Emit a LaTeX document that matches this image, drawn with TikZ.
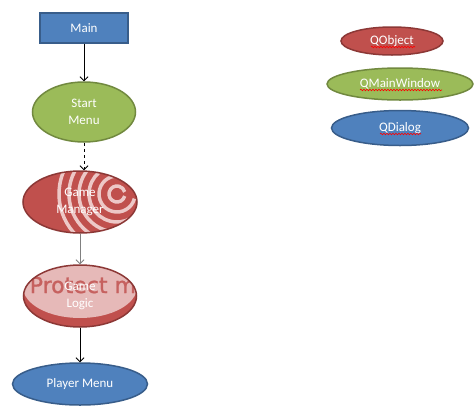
\documentclass[tikz,border=0pt]{standalone}
\usepackage{fontspec}
\setmainfont{Carlito}
\newfontfamily\stampfont[FakeBold=1.2]{DejaVu Sans}
\usetikzlibrary{arrows.meta,shapes.geometric,decorations.pathmorphing}
\definecolor{offblue}{HTML}{4F81BD}
\definecolor{offblueline}{HTML}{385D8A}
\definecolor{offgreen}{HTML}{9BBB59}
\definecolor{offgreenline}{HTML}{71893F}
\definecolor{offred}{HTML}{C0504D}
\definecolor{offredline}{HTML}{8C3836}
\definecolor{offpink}{HTML}{E6B9B8}
\definecolor{offswirl}{HTML}{EDC8C7}
\tikzset{
  flowbox/.style={rectangle,draw=offblueline,fill=offblue,line width=1.5pt,text=white,font=\fontsize{13}{17}\selectfont,minimum width=88,minimum height=30,inner sep=0pt},
  flowell/.style={ellipse,line width=1.5pt,text=white,font=\fontsize{13}{17}\selectfont,align=center,inner sep=0pt},
  greenell/.style={flowell,fill=offgreen,draw=offgreenline},
  redell/.style={flowell,fill=offred,draw=offredline},
  blueell/.style={flowell,fill=offblue,draw=offblueline},
  flowarr/.style={-{Straight Barb[length=4pt,width=8pt]},draw=black,line width=0.8pt},
  swirl/.style={draw=offswirl,line width=3.5pt},
  stamp/.style={shape=rectangle,minimum width=0pt,minimum height=0pt,draw=none,fill=none,anchor=base west,inner sep=0pt,align=left,text=offred!90!white,font=\stampfont\fontsize{22}{26}\selectfont},
  squig/.style={draw=red,line width=0.6pt,decorate,decoration={snake,amplitude=0.8pt,segment length=3pt}}
}
\begin{document}
\begin{tikzpicture}[x=1pt,y=-1pt]
\useasboundingbox[fill=white] (0,0) rectangle (474,413);
% flow column
\node[flowbox] (main) at (84,28) {Main};
\node[greenell,minimum width=103,minimum height=60] (start) at (84,112) {Start\\Menu};
\node[redell,minimum width=114,minimum height=62,
  path picture={
    \foreach \r in {8,18,28,38,48,58}
      \draw[swirl] ([shift={(37,-8)}]path picture bounding box.center) ++(15:\r) arc[start angle=15,end angle=345,radius=\r];
  }] (gm) at (80,202) {Game\\Manager};
\node[redell,minimum width=113,minimum height=62,
  path picture={
    \fill[offpink] ([shift={(0,-9)}]path picture bounding box.center) ellipse[x radius=57,y radius=31];
    \node[stamp] (stamp) at ([shift={(-51,-3)}]path picture bounding box.center) {Protect me};
  }] (gl) at (80,296) {Game\\Logic};
\node[blueell,minimum width=135,minimum height=42] (pm) at (80,384) {Player Menu};
\draw[flowarr] (main) -- (start);
\draw[flowarr,dashed] (start.south) -- (start.south |- gm.north);
\draw[flowarr,draw=gray] (gm) -- (gl);
\draw[flowarr] (gl) -- (pm);
% legend
\node[redell,minimum width=102,minimum height=28] (qobj) at (392,41) {QObject};
\node[greenell,minimum width=146,minimum height=32] (qmain) at (400,84) {QMainWindow};
\node[blueell,minimum width=137,minimum height=35] (qdlg) at (400,128) {QDialog};
\draw[squig] ([shift={(-21,6)}]qobj.center) -- ++(44,0);
\draw[squig] ([shift={(-40,6)}]qmain.center) -- ++(82,0);
\draw[squig] ([shift={(-20,6)}]qdlg.center) -- ++(41,0);
\end{tikzpicture}
\end{document}
